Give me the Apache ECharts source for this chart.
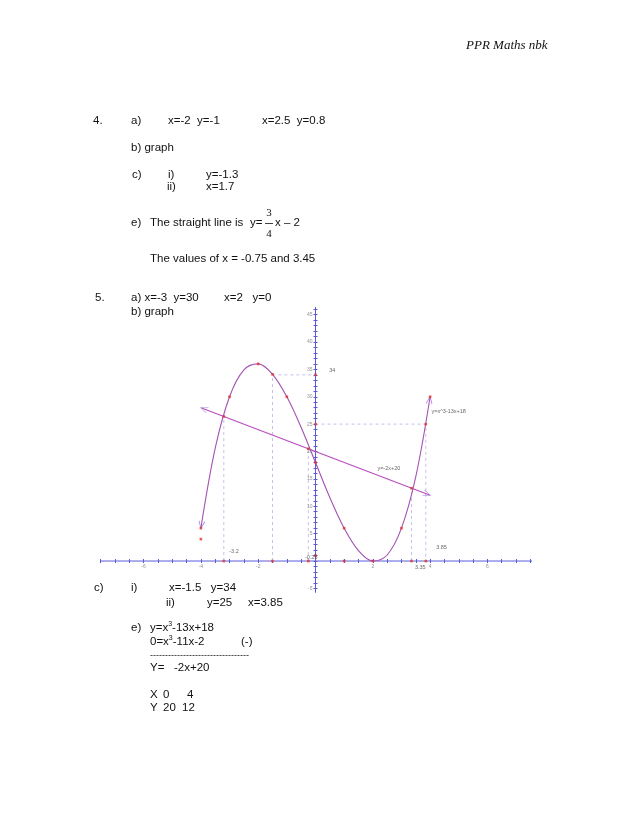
<!DOCTYPE html>
<html>
<head>
<meta charset="utf-8">
<script src="https://cdn.jsdelivr.net/npm/echarts@6/dist/echarts.min.js"></script>
<style>
html,body{margin:0;padding:0;background:#fff;}
#main{width:638px;height:826px;}
</style>
</head>
<body>
<div id="main"></div>
<script>
// ---- data ----
const curveX = [-4, -3.5, -3, -2.5, -2, -1.5, -1, -0.5, 0, 0.5, 1, 1.5, 2, 2.5, 3, 3.5, 4];
const curveY = [6, 20.6, 30, 34.9, 36, 34.1, 30, 24.4, 18, 11.6, 6, 1.9, 0, 1.1, 6, 15.4, 30];
const lineX = [-4, 4];
const lineY = [28, 12];

const guideSegments = [
  [[-3.2, 0], [-3.2, 26.4]],
  [[-1.5, 0], [-1.5, 34], [0, 34]],
  [[-0.25, 0], [-0.25, 20.5]],
  [[0, 25], [3.85, 25], [3.85, 0]],
  [[3.35, 0], [3.35, 13.3]]
];

const redX = [-4, -4, -3, -2, -1.5, -1, 0, 1, 3, 4, 3.85, -3.2, -0.25, 3.35, -3.2, -1.5, -0.25, 0, 1, 2, 3.35, 3.85, 0, 0];
const redY = [6, 4, 30, 36, 34.1, 30, 18, 6, 6, 30, 25, 26.4, 20.5, 13.3, 0, 0, 0, 1, 0, 0, 0, 0, 34, 25];

const noteText = ['34', 'y=x^3-13x+18', 'y=-2x+20', '-3.2', '3.85', '3.35', '-0.25'];
const noteX = [0.48, 4.05, 2.16, -3.01, 4.21, 3.47, -0.37];
const noteY = [34.8, 27.3, 16.9, 1.7, 2.4, -1.1, 0.7];

// arrow heads at the ends of the curve and the line
const arrowX = [-4, 4, -4, 4];
const arrowY = [6, 30, 28, 12];
const arrowRot = [171.5, -8.5, 69.1, -110.9];
const arrowColor = ['#8f6fd0', '#a060c8', '#b49ce0', '#b080d8'];

// axis scale and tick labels
const xMin = -7.5, xMax = 7.5, xStep = 0.5;
const yMin = -5, yMax = 46, yStep = 1;
const xLabelValues = [-6, -4, -2, 2, 4, 6];
const yLabelValues = [-5, 5, 10, 15, 20, 25, 30, 35, 40, 45];
const xAxisLineEnds = [-7.76, 7.95];
const yAxisLineEnds = [-5.8, 46.4];

// ---- chart ----
const axisColor = '#5b5bd6';
const curveColor = '#a452b4';
const lineColor = '#b84cc0';
const guideColor = '#c6c0ec';

const chart = echarts.init(document.getElementById('main'), null, {renderer: 'canvas'});

const tickStyle = {show: true, length: 2, lineStyle: {color: axisColor, width: 1}};

const series = [];
// axis lines
series.push({type: 'line', clip: false, silent: true, symbol: 'none',
  data: xAxisLineEnds.map(x => [x, 0]), lineStyle: {color: axisColor, width: 1}, z: 1});
series.push({type: 'line', clip: false, silent: true, symbol: 'none',
  data: yAxisLineEnds.map(y => [0, y]), lineStyle: {color: axisColor, width: 1}, z: 1});
// tick labels placed at the axes
series.push({type: 'scatter', clip: false, silent: true, symbolSize: 0, z: 6,
  data: xLabelValues.map(v => [v, 0]),
  label: {show: true, position: 'bottom', distance: 3.5, formatter: p => String(p.value[0]),
    fontSize: 5, color: '#777', fontFamily: 'Liberation Sans'}});
series.push({type: 'scatter', clip: false, silent: true, symbolSize: 0, z: 6,
  data: yLabelValues.map(v => [0, v]),
  label: {show: true, position: 'left', distance: 3, formatter: p => String(p.value[1]),
    fontSize: 5, color: '#777', fontFamily: 'Liberation Sans'}});
// guides
guideSegments.forEach(seg => series.push({type: 'line', clip: false, silent: true, symbol: 'none',
  data: seg, lineStyle: {color: guideColor, width: 1, type: [3, 3]}, z: 2}));
// curve
series.push({type: 'line', clip: false, smooth: 0.35, symbol: 'none',
  data: curveX.map((x, i) => [x, curveY[i]]), lineStyle: {color: curveColor, width: 1.1}, z: 3});
// straight line
series.push({type: 'line', clip: false, symbol: 'none',
  data: lineX.map((x, i) => [x, lineY[i]]), lineStyle: {color: lineColor, width: 1.1}, z: 3});
// arrows
series.push({type: 'scatter', clip: false, silent: true, z: 4,
  data: arrowX.map((x, i) => ({value: [x, arrowY[i]], symbolRotate: arrowRot[i],
    itemStyle: {color: 'rgba(0,0,0,0)', borderColor: arrowColor[i], borderWidth: 1}})),
  symbol: 'path://M5,0L5,0M0,20L5,10L10,20', symbolSize: [6, 14]});
// red points
series.push({type: 'scatter', clip: false, silent: true, z: 5, symbol: 'rect', symbolSize: 2.6,
  itemStyle: {color: '#e0302a'}, data: redX.map((x, i) => [x, redY[i]])});
// annotations
series.push({type: 'scatter', clip: false, silent: true, z: 6, symbolSize: 0,
  data: noteX.map((x, i) => ({name: noteText[i], value: [x, noteY[i]]})),
  label: {show: true, position: [0, 0], align: 'left', verticalAlign: 'middle',
    formatter: p => p.name, fontSize: 5.5, color: '#444', fontFamily: 'Liberation Sans'}});

// ---- surrounding document text ----
const F = '11.5px "Liberation Sans", Arial, sans-serif';
const textItems = [
  ['4.', 93, 121], ['a)', 131, 121], ['x=-2  y=-1', 168, 121], ['x=2.5  y=0.8', 262, 121],
  ['b) graph', 131, 148],
  ['c)', 132, 175], ['i)', 168, 175], ['y=-1.3', 206, 175],
  ['ii)', 167, 187], ['x=1.7', 206, 187],
  ['e)', 131, 223], ['The straight line is', 150, 223], ['y=', 250, 223],
  ['x \u2013 2', 275, 223],
  ['The values of x = -0.75 and 3.45', 150, 259],
  ['5.', 95, 298], ['a) x=-3  y=30', 131, 298], ['x=2   y=0', 224, 298],
  ['b) graph', 131, 312],
  ['c)', 94, 588], ['i)', 131, 588], ['x=-1.5   y=34', 169, 588],
  ['ii)', 166, 603], ['y=25', 207, 603], ['x=3.85', 248, 603],
  ['e)', 131, 628],
  ['(-)', 241, 642],
  ['Y=', 150, 668], ['-2x+20', 174, 668],
  ['X', 150, 695], ['0', 163, 695], ['4', 187, 695],
  ['Y', 150, 708], ['20', 163, 708], ['12', 182, 708]
];
const graphics = textItems.map(t => ({type: 'text', x: t[1], y: t[2],
  style: {text: t[0], font: F, fill: '#111', verticalAlign: 'middle', align: 'left'}}));
graphics.push({type: 'text', x: 466, y: 46, style: {text: 'PPR Maths nbk',
  font: 'italic 13px "Liberation Serif", "Times New Roman", serif', fill: '#111', verticalAlign: 'middle'}});
// fraction 3/4
graphics.push({type: 'text', x: 269, y: 213, style: {text: '3', font: '11px "Liberation Serif", serif', fill: '#111', align: 'center', verticalAlign: 'middle'}});
graphics.push({type: 'text', x: 269, y: 234, style: {text: '4', font: '11px "Liberation Serif", serif', fill: '#111', align: 'center', verticalAlign: 'middle'}});
graphics.push({type: 'line', shape: {x1: 265, y1: 223.5, x2: 273, y2: 223.5}, style: {stroke: '#111', lineWidth: 0.8}});
// superscripts
const rich = {n: {font: F, fill: '#111', lineHeight: 14}, s: {fontSize: 7, fontFamily: 'Liberation Sans', fill: '#111', verticalAlign: 'top', lineHeight: 14}};
graphics.push({type: 'text', x: 150, y: 628, style: {text: '{n|y=x}{s|3}{n|-13x+18}', rich: rich, verticalAlign: 'middle'}});
graphics.push({type: 'text', x: 150, y: 642, style: {text: '{n|0=x}{s|3}{n|-11x-2}', rich: rich, verticalAlign: 'middle'}});
graphics.push({type: 'text', x: 150, y: 656, style: {text: '---------------------------------', font: '9px "Liberation Sans", sans-serif', fill: '#111', verticalAlign: 'middle'}});

chart.setOption({
  animation: false,
  backgroundColor: '#fff',
  grid: {left: 100.6, right: 107.6, top: 309.15, bottom: 237.6, containLabel: false},
  xAxis: [
    {type: 'value', min: xMin, max: xMax, interval: xStep, position: 'bottom',
      axisLine: {show: false, onZero: true}, axisTick: tickStyle,
      axisLabel: {show: false}, splitLine: {show: false}},
    {type: 'value', min: xMin, max: xMax, interval: xStep, position: 'top',
      axisLine: {show: false, onZero: true, onZeroAxisIndex: 1}, axisTick: tickStyle,
      axisLabel: {show: false}, splitLine: {show: false}}
  ],
  yAxis: [
    {type: 'value', min: yMin, max: yMax, interval: yStep, position: 'left',
      axisLine: {show: false, onZero: true}, axisTick: tickStyle,
      axisLabel: {show: false}, splitLine: {show: false}},
    {type: 'value', min: yMin, max: yMax, interval: yStep, position: 'right',
      axisLine: {show: false, onZero: true, onZeroAxisIndex: 1}, axisTick: tickStyle,
      axisLabel: {show: false}, splitLine: {show: false}}
  ],
  series: series,
  graphic: graphics
});
</script>
</body>
</html>
